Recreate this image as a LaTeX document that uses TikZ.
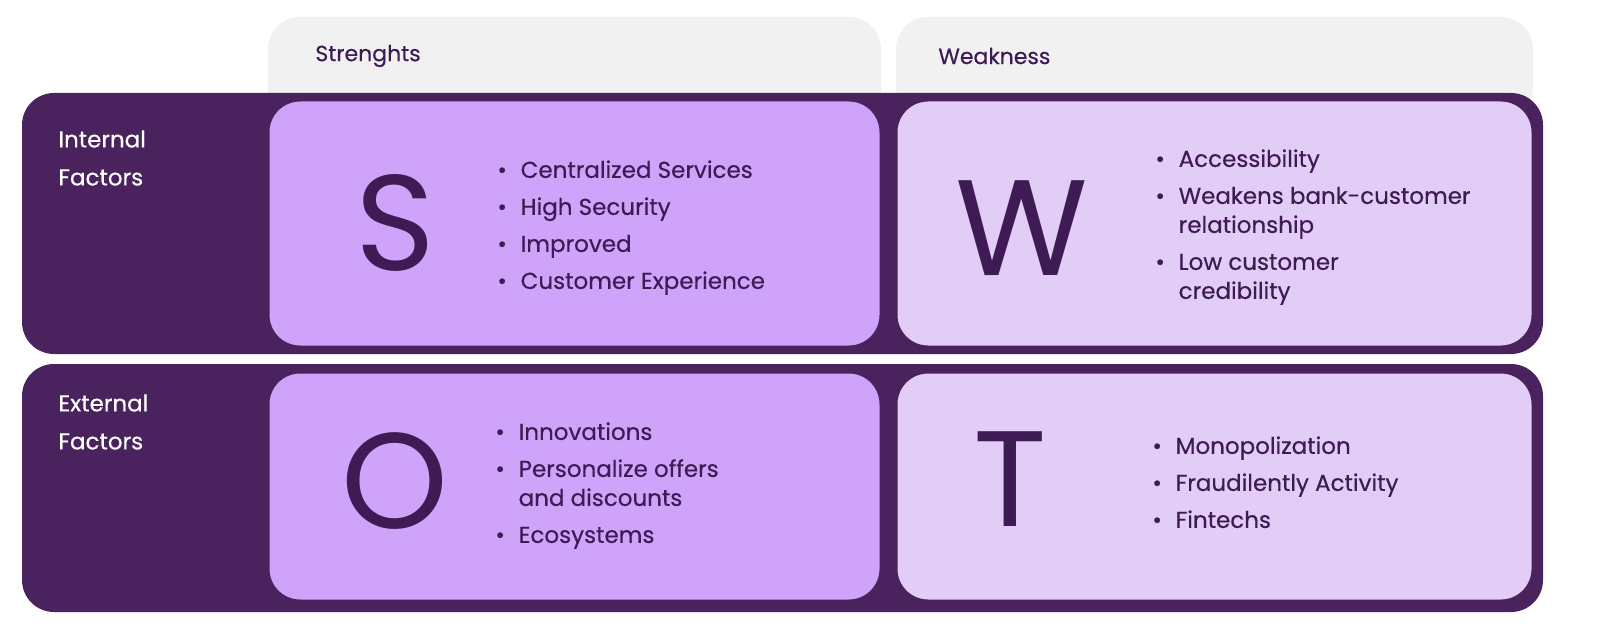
\documentclass[tikz,border=0pt]{standalone}
\usepackage{fontspec}
\setmainfont{Poppins}
\definecolor{dark}{HTML}{4A235E}
\definecolor{txt}{HTML}{3E1B55}
\definecolor{sfill}{HTML}{CFA3FA}
\definecolor{wfill}{HTML}{E2CDF6}
\definecolor{hdr}{HTML}{F1F1F1}
\tikzset{
 hbox/.style={fill=hdr,rounded corners=16},
 band/.style={fill=dark,rounded corners=16},
 cell/.style={draw=dark,line width=1.5pt,rounded corners=16},
 big/.style={text=txt,font=\fontsize{68}{68}\selectfont,inner sep=0},
 lst/.style={text=txt,anchor=north west,align=left,font=\fontsize{11.5}{14.5}\selectfont\medium,inner sep=0},
 hd/.style={text=txt,anchor=west,font=\fontsize{11}{13}\selectfont\medium,inner sep=0},
 side/.style={text=white,anchor=north west,align=left,font=\fontsize{11.5}{19}\selectfont\medium,inner sep=0}
}
\newcommand{\medium}{\addfontfeatures{FakeBold=0.4}}
\newcommand{\itm}{\textbullet\hspace{0.6em}}
\begin{document}
\begin{tikzpicture}[x=0.5pt,y=-0.5pt]
\useasboundingbox[fill=white] (0,0) rectangle (1600,642);
\fill[hbox] (268,17) rectangle (881,120);
\fill[hbox] (896,17) rectangle (1533,120);
\node[hd] (hs) at (315,56) {Strenghts};
\node[hd] (hw) at (938,56) {Weakness};
\fill[band] (22,93) rectangle (1543,354);
\fill[band] (22,364) rectangle (1543,612);
\node[side] (inf) at (58,130) {Internal\\Factors};
\node[side] (exf) at (58,394) {External\\Factors};
\draw[cell,fill=sfill] (268,100) rectangle (881,347);
\draw[cell,fill=wfill] (896,100) rectangle (1533,347);
\draw[cell,fill=sfill] (268,372) rectangle (881,601);
\draw[cell,fill=wfill] (896,372) rectangle (1533,601);
\node[big] (s) at (395,223) {S};
\node[big] (w) at (1022,228) {W};
\node[big] (o) at (395,481) {O};
\node[big] (t) at (1010,479) {T};
\node[lst,font=\fontsize{11.5}{18.5}\selectfont\medium] (sl) at (497,160) {\itm Centralized Services\\\itm High Security\\\itm Improved\\\itm Customer Experience};
\node[lst] (wl) at (1155,149) {\itm Accessibility\\[4pt]\itm Weakens bank-customer\\\phantom{\itm}relationship\\[4pt]\itm Low customer\\\phantom{\itm}credibility};
\node[lst] (ol) at (495,422) {\itm Innovations\\[4pt]\itm Personalize offers\\\phantom{\itm}and discounts\\[4pt]\itm Ecosystems};
\node[lst,font=\fontsize{11.5}{18.5}\selectfont\medium] (tl) at (1152,436) {\itm Monopolization\\\itm Fraudilently Activity\\\itm Fintechs};
\end{tikzpicture}
\end{document}
